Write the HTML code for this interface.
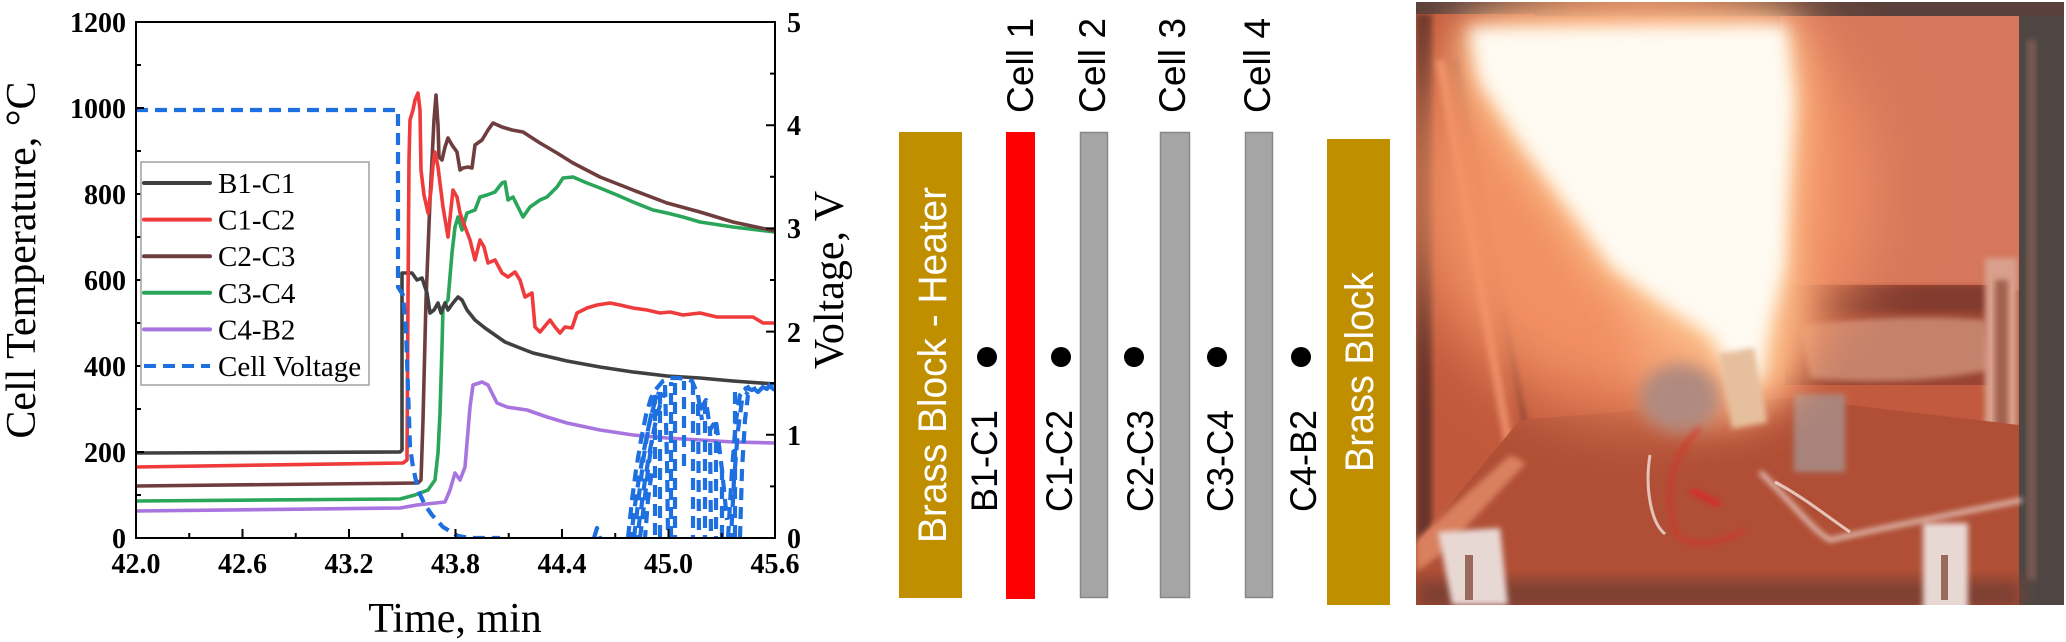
<!DOCTYPE html>
<html>
<head>
<meta charset="utf-8">
<style>
  html,body{margin:0;padding:0;background:#fff;}
  body{width:2066px;height:642px;overflow:hidden;}
  svg{display:block;}
  .serif{font-family:"Liberation Serif","Times New Roman",serif;}
  .sans{font-family:"Liberation Sans",Arial,sans-serif;}
</style>
</head>
<body>
<svg width="2066" height="642" viewBox="0 0 2066 642" xmlns="http://www.w3.org/2000/svg">
  <defs>
    <clipPath id="plotclip"><rect x="136" y="22" width="639" height="516"/></clipPath>
    <clipPath id="pc"><rect x="1416" y="2" width="648" height="603"/></clipPath>
    <filter id="b3" x="-20%" y="-20%" width="140%" height="140%"><feGaussianBlur stdDeviation="3"/></filter>
    <filter id="b8" x="-30%" y="-30%" width="160%" height="160%"><feGaussianBlur stdDeviation="8"/></filter>
    <filter id="b20" x="-50%" y="-50%" width="200%" height="200%"><feGaussianBlur stdDeviation="20"/></filter>
    <filter id="b35" x="-50%" y="-50%" width="200%" height="200%"><feGaussianBlur stdDeviation="35"/></filter>
  </defs>

  <!-- ================= CHART ================= -->
  <g clip-path="url(#plotclip)" fill="none" stroke-linejoin="round" stroke-linecap="round" stroke-width="3.6">
    <path stroke="#a874e0" d="M136,511 L400,508 L417,505 L445,502 L450,490 L455,473 L460,480 L465,467 L470,407 L473,385 L482,382 L488,385 L497,403 L507,407 L527,410 L547,417 L567,423 L600,430 L633,435 L667,438 L700,440 L733,442 L775,443"/>
    <path stroke="#2aa65a" d="M136,501 L400,499 L415,495 L428,490 L435,480 L438,453 L440,413 L442,347 L443,307 L448,300 L452,253 L455,227 L458,217 L462,230 L467,213 L475,210 L480,197 L487,195 L495,192 L502,183 L505,182 L508,200 L513,197 L523,217 L530,207 L540,200 L547,197 L557,187 L563,178 L573,177 L587,183 L600,188 L617,195 L633,202 L653,210 L667,213 L683,217 L700,222 L733,227 L775,232"/>
    <path stroke="#6f3d3d" d="M136,486 L418,483 L421,480 L423,420 L426,300 L430,200 L434,120 L436,95 L438,125 L439,157 L442,160 L445,147 L448,138 L452,145 L457,152 L460,170 L463,168 L468,167 L472,168 L475,145 L482,140 L488,130 L493,123 L502,127 L512,130 L523,132 L540,143 L557,153 L573,163 L600,177 L633,190 L667,203 L700,212 L733,222 L775,231"/>
    <path stroke="#404040" d="M136,453 L400,452 L402,450 L402,273 L412,273 L417,280 L422,278 L427,293 L430,313 L434,310 L438,303 L441,313 L445,303 L448,310 L453,303 L458,297 L462,300 L467,310 L475,320 L485,328 L495,335 L505,342 L520,348 L533,353 L567,361 L600,367 L633,372 L667,376 L700,378 L733,381 L775,384"/>
    <path stroke="#ef3b3b" d="M136,467 L403,463 L407,460 L408,300 L409,160 L410,120 L413,110 L415,100 L418,93 L420,110 L421,170 L424,195 L428,213 L431,190 L433,165 L435,152 L438,167 L443,207 L448,237 L453,190 L457,197 L460,213 L465,227 L470,240 L475,260 L480,240 L484,247 L488,263 L495,260 L502,273 L508,277 L515,272 L520,280 L525,297 L532,293 L535,327 L540,332 L550,320 L555,327 L560,333 L565,327 L572,328 L577,313 L587,308 L597,305 L610,303 L620,305 L633,308 L647,310 L660,313 L670,312 L683,315 L700,313 L717,317 L733,317 L753,317 L763,323 L775,323"/>
    <g stroke="#1e6fe0" stroke-width="4.2" stroke-dasharray="12 7" stroke-linecap="butt">
      <path d="M136,110 L398,110 L398,287 L403,295 L406,330 L410,447 L413,467 L418,490 L425,505 L432,515 L443,527 L458,536 L470,538 L500,538"/>
      <path d="M594,538 L597,528 L600,538"/>
      <path d="M628,538 L632,500 L636,470 L641,440 L646,415 L651,398 L657,388 L663,381 L670,378 L678,378 L686,379 L692,381 L698,395 L702,420"/>
      <path d="M631,538 L635,505 L639,478 L644,450 L649,425 L654,405 L659,392" stroke-dashoffset="6"/>
      <path d="M634,538 L639,495 L644,455 L649,425 L654,402 L660,390"/>
      <path d="M637,538 L641,510 L645,480 L650,450 L655,425 L660,405 L665,392" stroke-dashoffset="9"/>
      <path d="M640,538 L644,505 L648,470 L652,440"/>
      <path d="M645,538 L648,500 L652,470" stroke-dashoffset="4"/>
      <path d="M655,395 L655,538" stroke-dashoffset="5"/>
      <path d="M660,392 L660,538"/>
      <path d="M665,385 L667,460 L668,538"/>
      <path d="M671,382 L671,538" stroke-dashoffset="8"/>
      <path d="M675,383 L675,538"/>
      <path d="M684,381 L684,470" stroke-dashoffset="3"/>
      <path d="M693,383 L693,538"/>
      <path d="M698,395 L699,538" stroke-dashoffset="10"/>
      <path d="M705,402 L705,538"/>
      <path d="M700,410 L706,400 L710,430 L716,420 L722,470 L727,520"/>
      <path d="M710,430 L711,538" stroke-dashoffset="6"/>
      <path d="M716,422 L716,538"/>
      <path d="M722,470 L722,538" stroke-dashoffset="2"/>
      <path d="M728,538 L732,470 L736,420 L740,395 L746,388 L752,390 L760,386 L767,389 L773,380 L775,385"/>
      <path d="M731,538 L734,480 L738,430 L742,400 L748,392" stroke-dashoffset="7"/>
      <path d="M735,392 L735,538"/>
      <path d="M740,538 L742,470 L745,420 L748,395"/>
      <path d="M744,390 L750,386 L758,392 L766,384 L775,390" stroke-dashoffset="5"/>
    </g>
  </g>

  <rect x="136" y="22" width="639" height="516" fill="none" stroke="#000" stroke-width="2"/>
  <g stroke="#000" stroke-width="2">
    <path d="M136,538h8 M136,452h8 M136,366h8 M136,280h8 M136,194h8 M136,108h8 M136,22h8"/>
    <path d="M136,495h5 M136,409h5 M136,323h5 M136,237h5 M136,151h5 M136,65h5"/>
    <path d="M136,538v-9 M242.5,538v-9 M349,538v-9 M455.5,538v-9 M562,538v-9 M668.5,538v-9 M775,538v-9"/>
    <path d="M189.25,538v-5 M295.75,538v-5 M402.25,538v-5 M508.75,538v-5 M615.25,538v-5 M721.75,538v-5"/>
    <path d="M775,538h-9 M775,434.8h-9 M775,331.6h-9 M775,228.4h-9 M775,125.2h-9 M775,22h-9"/>
    <path d="M775,486.4h-5 M775,383.2h-5 M775,280h-5 M775,176.8h-5 M775,73.6h-5"/>
  </g>

  <g class="serif" font-weight="bold" font-size="28" fill="#000">
    <g text-anchor="end">
      <text x="126" y="548">0</text>
      <text x="126" y="462">200</text>
      <text x="126" y="376">400</text>
      <text x="126" y="290">600</text>
      <text x="126" y="204">800</text>
      <text x="126" y="118">1000</text>
      <text x="126" y="32">1200</text>
    </g>
    <g text-anchor="middle">
      <text x="136" y="573">42.0</text>
      <text x="242.5" y="573">42.6</text>
      <text x="349" y="573">43.2</text>
      <text x="455.5" y="573">43.8</text>
      <text x="562" y="573">44.4</text>
      <text x="668.5" y="573">45.0</text>
      <text x="775" y="573">45.6</text>
    </g>
    <g text-anchor="start">
      <text x="787" y="548">0</text>
      <text x="787" y="445">1</text>
      <text x="787" y="342">2</text>
      <text x="787" y="238">3</text>
      <text x="787" y="135">4</text>
      <text x="787" y="32">5</text>
    </g>
  </g>

  <g class="serif" font-size="42" fill="#000">
    <text x="455" y="632" text-anchor="middle">Time, min</text>
    <text transform="translate(35,260) rotate(-90)" text-anchor="middle">Cell Temperature, °C</text>
    <text transform="translate(843,280) rotate(-90)" text-anchor="middle">Voltage, V</text>
  </g>

  <rect x="141" y="162" width="228" height="223" fill="#fff" stroke="#a0a0a0" stroke-width="1.5"/>
  <g stroke-width="4" stroke-linecap="round">
    <line x1="144" y1="183" x2="210" y2="183" stroke="#404040"/>
    <line x1="144" y1="219.6" x2="210" y2="219.6" stroke="#ef3b3b"/>
    <line x1="144" y1="256.2" x2="210" y2="256.2" stroke="#6f3d3d"/>
    <line x1="144" y1="292.8" x2="210" y2="292.8" stroke="#2aa65a"/>
    <line x1="144" y1="329.4" x2="210" y2="329.4" stroke="#a874e0"/>
    <line x1="144" y1="366" x2="210" y2="366" stroke="#1e6fe0" stroke-dasharray="12 7" stroke-linecap="butt"/>
  </g>
  <g class="serif" font-size="29" fill="#000">
    <text x="218" y="193">B1-C1</text>
    <text x="218" y="229.6">C1-C2</text>
    <text x="218" y="266.2">C2-C3</text>
    <text x="218" y="302.8">C3-C4</text>
    <text x="218" y="339.4">C4-B2</text>
    <text x="218" y="376">Cell Voltage</text>
  </g>

  <!-- ================= DIAGRAM ================= -->
  <rect x="899" y="132" width="63" height="466" fill="#bf8f00"/>
  <rect x="1006" y="132" width="29" height="467" fill="#ff0000"/>
  <g fill="#a5a5a5" stroke="#878787" stroke-width="1.5">
    <rect x="1080.5" y="132.5" width="27" height="465"/>
    <rect x="1160.5" y="132.5" width="29" height="465"/>
    <rect x="1245.5" y="132.5" width="27" height="465"/>
  </g>
  <rect x="1327" y="139" width="63" height="466" fill="#bf8f00"/>
  <g fill="#000">
    <circle cx="987" cy="357" r="10"/>
    <circle cx="1061" cy="357" r="10"/>
    <circle cx="1134" cy="357" r="10"/>
    <circle cx="1217" cy="357" r="10"/>
    <circle cx="1301" cy="357" r="10"/>
  </g>
  <g class="sans" font-size="37" fill="#000">
    <text transform="translate(997,512) rotate(-90)" textLength="102" lengthAdjust="spacingAndGlyphs">B1-C1</text>
    <text transform="translate(1072,512) rotate(-90)" textLength="102" lengthAdjust="spacingAndGlyphs">C1-C2</text>
    <text transform="translate(1153,512) rotate(-90)" textLength="102" lengthAdjust="spacingAndGlyphs">C2-C3</text>
    <text transform="translate(1233,512) rotate(-90)" textLength="102" lengthAdjust="spacingAndGlyphs">C3-C4</text>
    <text transform="translate(1316,512) rotate(-90)" textLength="102" lengthAdjust="spacingAndGlyphs">C4-B2</text>
    <text transform="translate(1033,113) rotate(-90)" textLength="95" lengthAdjust="spacingAndGlyphs">Cell 1</text>
    <text transform="translate(1105,113) rotate(-90)" textLength="95" lengthAdjust="spacingAndGlyphs">Cell 2</text>
    <text transform="translate(1185,113) rotate(-90)" textLength="95" lengthAdjust="spacingAndGlyphs">Cell 3</text>
    <text transform="translate(1270,113) rotate(-90)" textLength="95" lengthAdjust="spacingAndGlyphs">Cell 4</text>
  </g>
  <g class="sans" font-size="40" fill="#fff">
    <text transform="translate(946,543) rotate(-90)" textLength="356" lengthAdjust="spacingAndGlyphs">Brass Block - Heater</text>
    <text transform="translate(1373,472) rotate(-90)" textLength="200" lengthAdjust="spacingAndGlyphs">Brass Block</text>
  </g>

  <!-- ================= PHOTO ================= -->
  <g clip-path="url(#pc)">
    <rect x="1416" y="2" width="648" height="603" fill="#c15a3e"/>
    <!-- right wall -->
    <rect x="1780" y="14" width="242" height="276" fill="#d6765a"/>
    <rect x="1785" y="285" width="205" height="100" fill="#9a4533"/>
    <rect x="1785" y="287" width="205" height="24" fill="#823b2e" filter="url(#b3)"/>
    <path d="M1800,325 C1860,318 1930,315 1985,320 L1990,370 C1930,383 1860,383 1810,378 Z" fill="#c4826c" filter="url(#b3)"/>
    <!-- right bracket -->
    <rect x="1985" y="258" width="32" height="210" fill="#d8a08c" filter="url(#b3)"/>
    <rect x="1995" y="280" width="13" height="170" fill="#a0604e" filter="url(#b3)"/>
    <!-- right frame -->
    <rect x="2019" y="0" width="50" height="642" fill="#4f4644"/>
    <rect x="2027" y="40" width="9" height="540" fill="#7a5a52" filter="url(#b3)"/>
    <!-- top strip -->
    <rect x="1416" y="0" width="650" height="16" fill="#5a403b"/>
    <!-- left wall -->
    <polygon points="1416,14 1535,14 1535,430 1470,500 1416,545" fill="#c0593c"/>
    <rect x="1416" y="14" width="16" height="560" fill="#6a3529" filter="url(#b3)"/>
    <line x1="1440" y1="60" x2="1510" y2="451" stroke="#e88a66" stroke-width="9" filter="url(#b3)"/>
    <line x1="1456" y1="60" x2="1528" y2="440" stroke="#8a3e2f" stroke-width="6" filter="url(#b3)"/>
    <!-- floor -->
    <polygon points="1520,420 1790,398 2019,425 2019,605 1416,605 1416,545" fill="#b04f36"/>
    <polygon points="1416,540 1510,455 1526,463 1440,555 1416,572" fill="#d9805f" filter="url(#b3)"/>
    <rect x="1416" y="580" width="605" height="30" fill="#7e3f30" filter="url(#b8)"/>
    <!-- gray box -->
    <rect x="1794" y="394" width="51" height="78" fill="#a8847c" filter="url(#b3)"/>
    <!-- flame glow -->
    <ellipse cx="1640" cy="190" rx="230" ry="220" fill="#f59466" filter="url(#b35)" opacity="0.95"/>
    <ellipse cx="1720" cy="330" rx="90" ry="90" fill="#f6a476" filter="url(#b20)"/>
    <!-- flame core -->
    <path d="M1460,24 L1792,20 L1802,100 L1795,200 L1792,270 L1778,330 L1772,388 L1742,398 L1705,345 L1655,312 L1605,277 L1565,218 L1515,150 L1470,82 Z" fill="#ffd09a" filter="url(#b20)"/>
    <path d="M1468,28 L1786,25 L1794,100 L1788,200 L1785,265 L1770,325 L1762,378 L1742,388 L1710,335 L1660,302 L1612,267 L1572,212 L1522,145 L1480,82 Z" fill="#fffaf2" filter="url(#b8)"/>
    <!-- cell assembly -->
    <ellipse cx="1680" cy="398" rx="40" ry="34" fill="#b08a80" filter="url(#b8)"/>
    <rect x="1725" y="350" width="36" height="76" fill="#e6c09e" filter="url(#b3)" transform="rotate(-10 1743 388)"/>
    <!-- wires -->
    <path d="M1760,472 C1790,500 1812,530 1830,540 C1880,528 1950,515 2022,500" fill="none" stroke="#f2e2dc" stroke-width="4" filter="url(#b3)" opacity="0.9"/>
    <path d="M1775,482 C1805,498 1825,515 1850,532" fill="none" stroke="#f2e2dc" stroke-width="3" opacity="0.8"/>
    <path d="M1700,428 C1670,455 1660,505 1680,538 C1700,548 1720,543 1745,530" fill="none" stroke="#d4322a" stroke-width="3" filter="url(#b3)"/>
    <path d="M1690,490 L1720,505" stroke="#d82a2a" stroke-width="6" filter="url(#b3)"/>
    <path d="M1650,455 C1645,485 1650,522 1665,534" fill="none" stroke="#f0e0da" stroke-width="3" opacity="0.8"/>
    <!-- white floor brackets -->
    <polygon points="1438,532 1500,528 1508,605 1452,605" fill="#e8d8d4" filter="url(#b3)"/>
    <rect x="1465" y="555" width="8" height="45" fill="#9a6a5e"/>
    <rect x="1923" y="523" width="45" height="90" fill="#e8d8d4" filter="url(#b3)"/>
    <rect x="1941" y="555" width="7" height="45" fill="#9a6a5e"/>
  </g>
</svg>
</body>
</html>
